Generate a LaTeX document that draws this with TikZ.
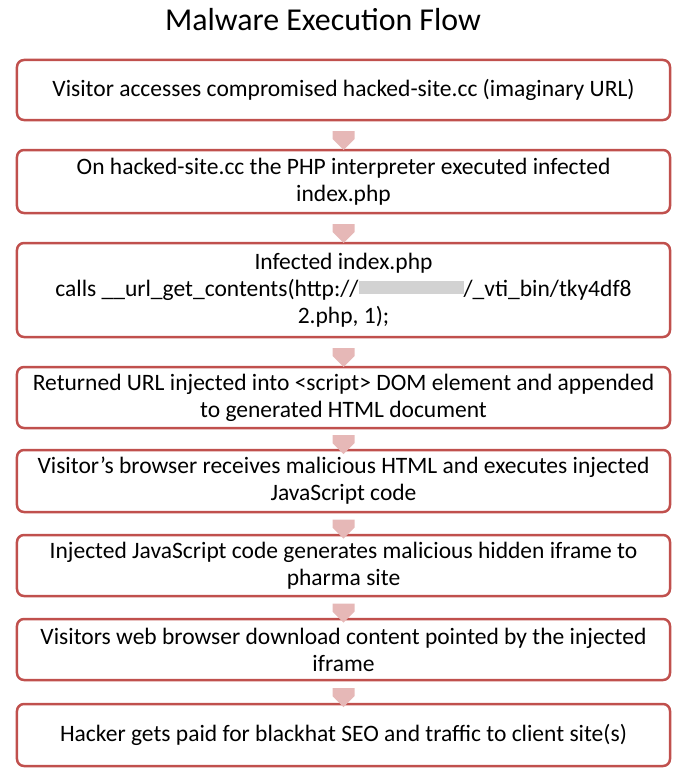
\documentclass[tikz,border=0pt]{standalone}
\usepackage{fontspec}
\setmainfont{Carlito}
\usetikzlibrary{shapes.arrows,calc}
\definecolor{boxred}{RGB}{192,80,77}
\definecolor{arrowpink}{RGB}{230,184,183}
\newcommand{\blurred}[1]{\textcolor{gray!35}{\rule[0.1em]{#1}{0.55em}}}

\begin{document}
\begin{tikzpicture}[x=1bp,y=-1bp,
	step box/.style={rectangle,rounded corners=7bp,draw=boxred,line width=2.5bp,
		minimum width=653bp,align=center,inner sep=0pt,font=\fontsize{23.6}{27}\selectfont},
	flow arrow/.style={single arrow,shape border rotate=270,fill=arrowpink,
		minimum height=19bp,minimum width=22bp,single arrow head extend=0pt,inner sep=2bp}]

	\useasboundingbox (0,0) rectangle (694,774);
	\node[font=\fontsize{32}{36}\selectfont] (title) at (323,20) {Malware Execution Flow};

	\node[step box,minimum height=60bp] (visit) at (343.5,90) {Visitor accesses\ compromised hacked-site.cc (imaginary URL)};
	\node[step box,minimum height=63bp] (interp) at (343.5,181.5) {On hacked-site.cc the PHP interpreter executed infected\\index.php};
	\node[step box,minimum height=94bp] (calls) at (343.5,290) {Infected index.php\\calls \_\_url\_get\_contents(http://\blurred{105bp}/\_vti\_bin/tky4df8\\2.php, 1);};
	\node[step box,minimum height=61bp] (inject) at (343.5,397.5) {Returned URL injected into <script> DOM element and appended\\to generated HTML document};
	\node[step box,minimum height=62bp] (browser) at (343.5,481) {Visitor's browser receives malicious HTML and executes injected\\JavaScript code};
	\node[step box,minimum height=61bp] (iframe) at (343.5,565.5) {Injected JavaScript code generates malicious hidden iframe to\\pharma site};
	\node[step box,minimum height=61bp] (download) at (343.5,649.5) {Visitors web browser download content pointed by the injected\\iframe};
	\node[step box,minimum height=62bp] (paid) at (343.5,735) {Hacker gets paid for blackhat SEO and traffic to client site(s)};

	% arrows between the steps
	\foreach \a/\b in {visit/interp,interp/calls,calls/inject,inject/browser,browser/iframe,iframe/download,download/paid}
		\node[flow arrow] at ($(\a.south)!0.5!(\b.north)$) {};
\end{tikzpicture}
\end{document}
